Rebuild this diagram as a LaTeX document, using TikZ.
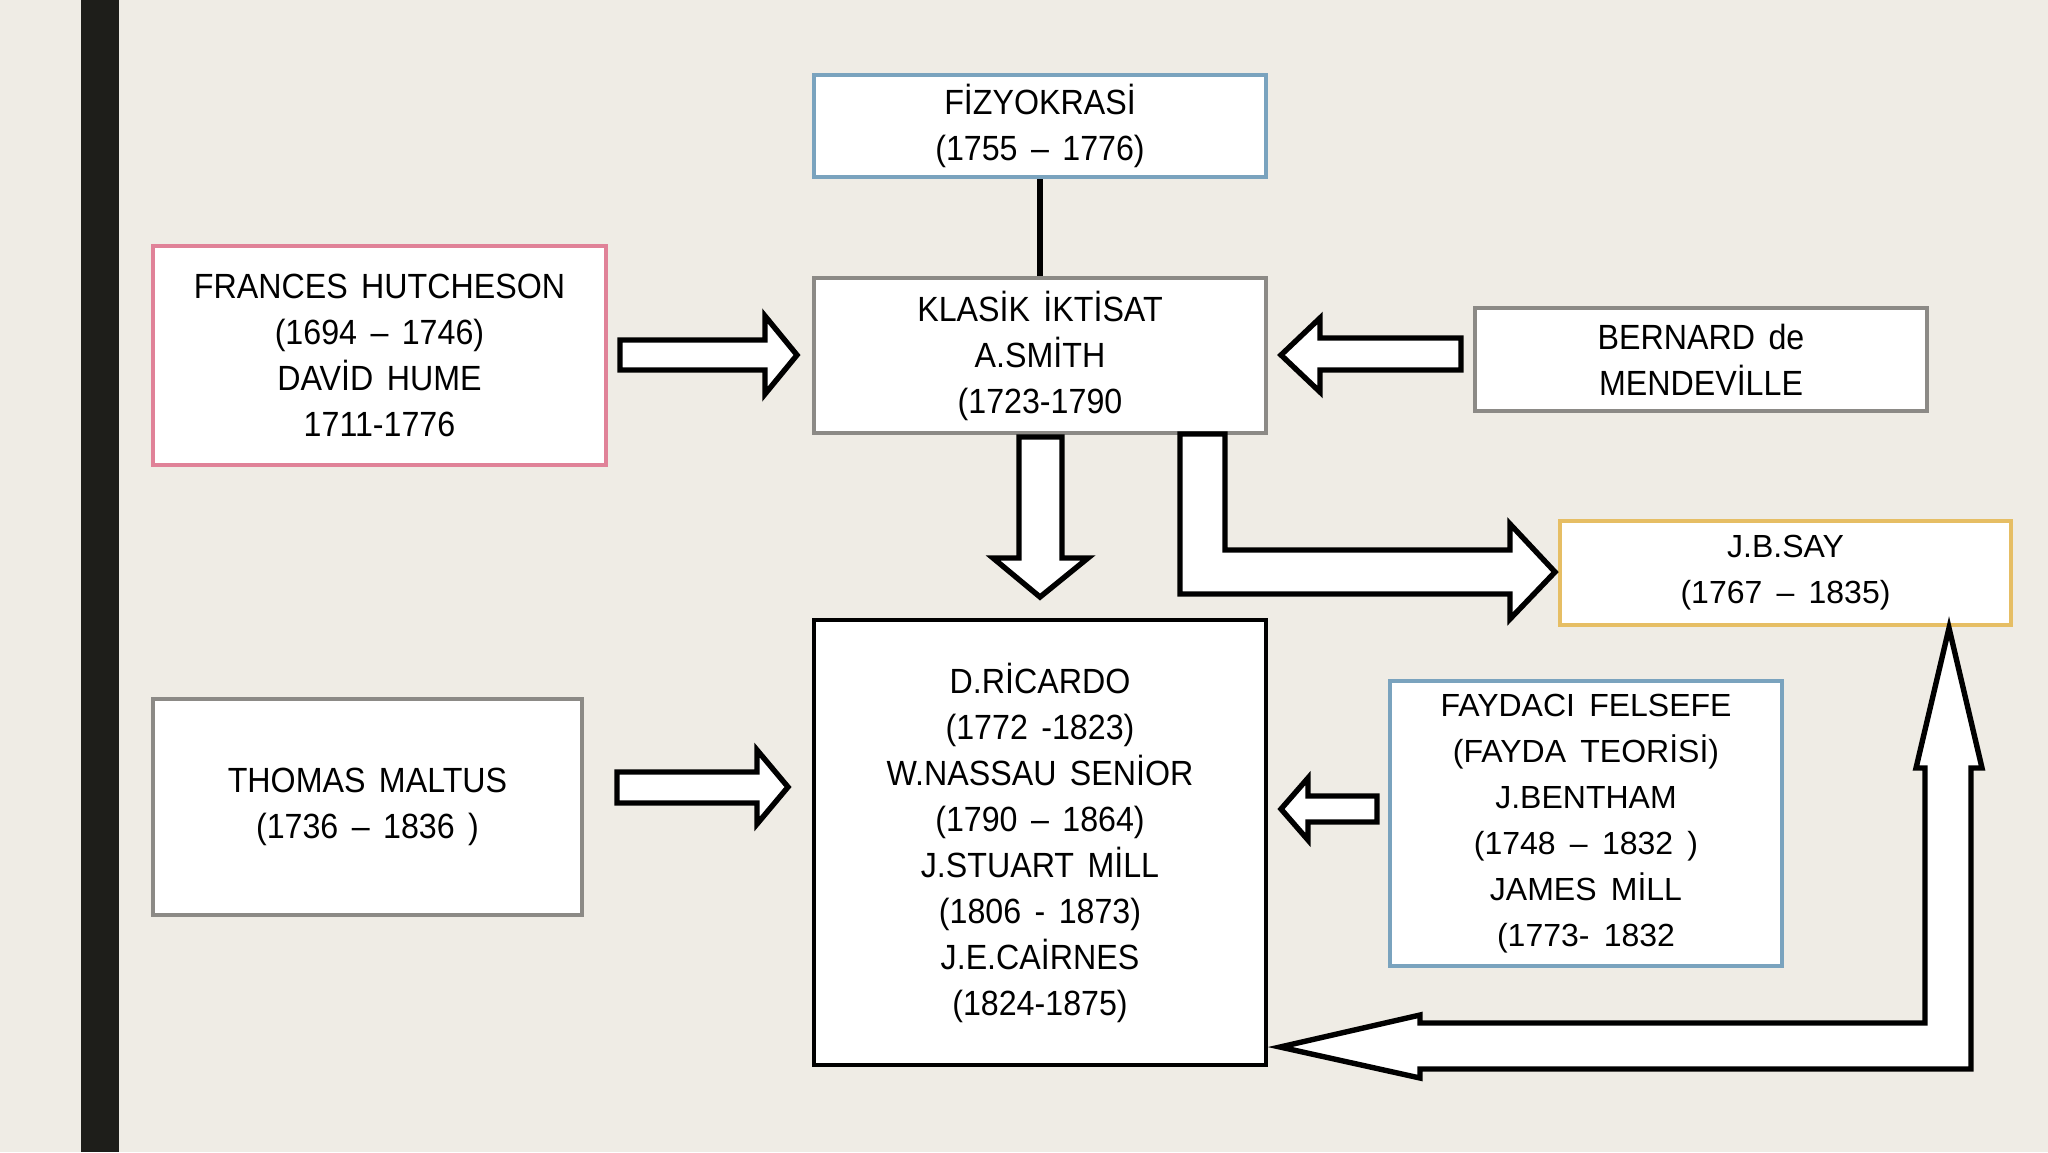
\documentclass[tikz,border=0pt]{standalone}
\usepackage{fontspec}
\setmainfont{Liberation Sans}[FakeStretch=0.92, WordSpace=1.5]
\newfontfamily\narrowfont{Liberation Sans}[WordSpace=1.6]
\definecolor{bg}{RGB}{239,236,229}
\definecolor{barC}{RGB}{30,30,26}
\definecolor{blueC}{RGB}{122,163,190}
\definecolor{grayC}{RGB}{140,138,134}
\definecolor{pinkC}{RGB}{224,130,152}
\definecolor{goldC}{RGB}{230,190,100}
\newcommand\txtsz{\fontsize{17.5}{23}\selectfont}
\newcommand\narrowsz{\narrowfont\fontsize{16}{23}\selectfont}
\begin{document}
\begin{tikzpicture}[x=0.5pt,y=-0.5pt,
  box/.style={draw, line width=2.3pt, fill=white, inner sep=0pt, align=center, font=\txtsz, text=black},
  blockarrow/.style={draw=black, fill=white, line width=2.7pt, line join=miter, miter limit=10}]
\fill[bg] (0,0) rectangle (2048,1152);
\useasboundingbox (0,0) rectangle (2048,1152);
\fill[barC] (81,0) rectangle (119,1152);

\node[box, draw=blueC, minimum width=226pt, minimum height=51pt] (fiz) at (1040,126) {FİZYOKRASİ\\(1755 – 1776)};
\node[box, draw=grayC, minimum width=226pt, minimum height=77.5pt] (klasik) at (1040,355.5) {KLASİK İKTİSAT\\A.SMİTH\\(1723-1790};
\node[box, draw=pinkC, minimum width=226.5pt, minimum height=109.5pt] (frances) at (379.5,355.5) {FRANCES HUTCHESON\\(1694 – 1746)\\DAVİD HUME\\1711-1776};
\node[box, draw=grayC, minimum width=226pt, minimum height=51.5pt] (bernard) at (1701,359.5) {BERNARD de\\MENDEVİLLE};
\node[box, draw=goldC, minimum width=225.5pt, minimum height=52pt, font=\narrowsz] (jbsay) at (1785.5,573) {J.B.SAY\\(1767 – 1835)};
\node[box, draw=grayC, minimum width=214.5pt, minimum height=108pt] (maltus) at (367.5,807) {THOMAS MALTUS\\(1736 – 1836 )};
\node[box, draw=black, line width=2.2pt, minimum width=226pt, minimum height=222.5pt] (ricardo) at (1040,842.5) {D.RİCARDO\\(1772 -1823)\\W.NASSAU SENİOR\\(1790 – 1864)\\J.STUART MİLL\\(1806 - 1873)\\J.E.CAİRNES\\(1824-1875)};
\node[box, draw=blueC, minimum width=196pt, minimum height=142.5pt, font=\narrowsz] (faydaci) at (1586,823.5) {FAYDACI FELSEFE\\(FAYDA TEORİSİ)\\J.BENTHAM\\(1748 – 1832 )\\JAMES MİLL\\(1773- 1832};

\draw[line width=2.7pt] (fiz.south) -- (klasik.north);

% frances -> klasik
\draw[blockarrow] (620,340) -- (765,340) -- (765,316) -- (797,355) -- (765,394) -- (765,370) -- (620,370) -- cycle;
% maltus -> ricardo
\draw[blockarrow] (617,772) -- (757,772) -- (757,750) -- (788,787) -- (757,824) -- (757,803) -- (617,803) -- cycle;
% bernard -> klasik
\draw[blockarrow] (1461,338) -- (1320,338) -- (1320,318) -- (1281,355) -- (1320,392) -- (1320,370) -- (1461,370) -- cycle;
% klasik -> ricardo
\draw[blockarrow] (1019,437) -- (1062,437) -- (1062,558) -- (1088,558) -- (1040,597) -- (993,558) -- (1019,558) -- cycle;
% klasik -> jbsay (bent)
\draw[blockarrow] (1180,434) -- (1225,434) -- (1225,550) -- (1510,550) -- (1510,524) -- (1555,572) -- (1510,619) -- (1510,594) -- (1180,594) -- cycle;
% faydaci -> ricardo
\draw[blockarrow] (1377,796) -- (1308,796) -- (1308,778) -- (1281,809) -- (1308,840) -- (1308,822) -- (1377,822) -- cycle;
% U-shaped double arrow
\draw[blockarrow] (1280,1047) -- (1420,1015) -- (1420,1023) -- (1925,1023) -- (1925,768) -- (1916,768) -- (1949,628) -- (1982,768) -- (1971,768) -- (1971,1069) -- (1420,1069) -- (1420,1078) -- cycle;
\end{tikzpicture}
\end{document}
